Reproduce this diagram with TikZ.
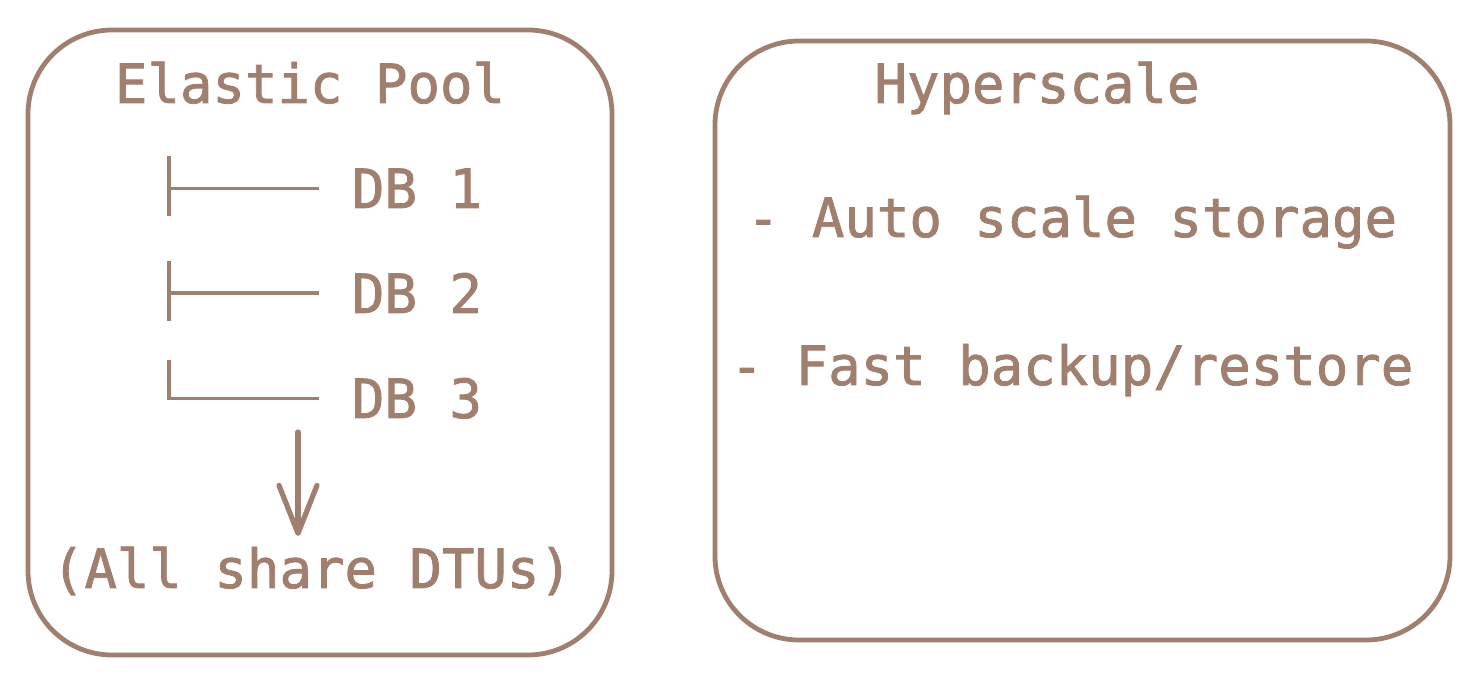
\documentclass[tikz,border=0pt]{standalone}
\usepackage{fontspec}
\newfontfamily\sketchfont{DejaVu Sans Mono}[FakeBold=1.5]
\usetikzlibrary{arrows.meta, positioning}
\definecolor{sketchbrown}{RGB}{160,127,111}

\begin{document}
\begin{tikzpicture}[x=0.5pt, y=-0.5pt, thick,
    panel/.style={draw=sketchbrown, line width=2.4pt, rounded corners=42pt},
    txt/.style={text=sketchbrown, inner sep=0pt, anchor=base, font=\sketchfont\fontsize{27pt}{32pt}\selectfont},
    branch/.style={draw=sketchbrown, line width=1.6pt},
    flow/.style={draw=sketchbrown, line width=2.6pt, line cap=round, -{Straight Barb[length=24pt, width=19pt, round]}}]
    \useasboundingbox (0,0) rectangle (1480,684);

    % left panel
    \draw[panel] (28,30) rectangle (612,655);
    \node[txt] (pool) at (310,103) {Elastic Pool};
    \node[txt] (db1) at (417,208) {DB 1};
    \node[txt] (db2) at (417,313) {DB 2};
    \node[txt] (db3) at (417,418) {DB 3};
    \node[txt] (share) at (312,588) {(All share DTUs)};

    \coordinate (rail1) at (169,156);
    \coordinate (rail2) at (169,261);
    \coordinate (rail3) at (169,360);
    \draw[branch] (rail1) -- ++(0,60);
    \draw[branch] (rail1 |- db1.west) -- ([xshift=-16pt]db1.west);
    \draw[branch] (rail2) -- ++(0,60);
    \draw[branch] (rail2 |- db2.west) -- ([xshift=-16pt]db2.west);
    \draw[branch] (rail3) |- ([xshift=-16pt]db3.west);

    \coordinate (down) at (298,432);
    \coordinate (tip) at (298,536);
    \draw[flow] (down) -- (tip);

    % right panel
    \draw[panel] (715,41) rectangle (1450,640);
    \node[txt] (hyper) at (1037,103) {Hyperscale};
    \node[txt] (auto) at (1072,237) {- Auto scale storage};
    \node[txt] (fast) at (1072,385) {- Fast backup/restore};
\end{tikzpicture}
\end{document}
